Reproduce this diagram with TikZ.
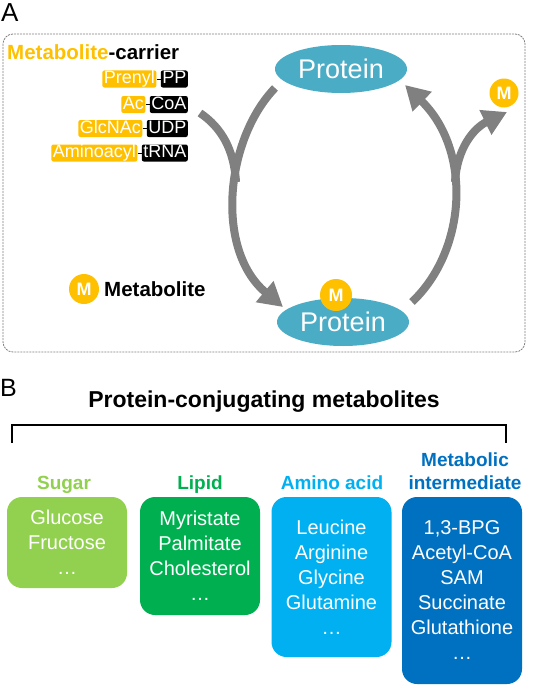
\documentclass[tikz,border=0pt]{standalone}
\usepackage{fontspec}
\setmainfont{Liberation Sans}
\usetikzlibrary{shapes.geometric,arrows.meta,calc}
\definecolor{gold}{HTML}{FFC000}
\definecolor{teal1}{HTML}{4BACC6}
\definecolor{arrowgray}{HTML}{808080}
\definecolor{sugarc}{HTML}{92D050}
\definecolor{lipidc}{HTML}{00B050}
\definecolor{aminoc}{HTML}{00B0F0}
\definecolor{metabc}{HTML}{0070C0}
\begin{document}
\begin{tikzpicture}[x=1pt,y=-1pt,
  panel/.style={font=\fontsize{26}{30}\selectfont, anchor=base west, inner sep=0pt},
  prot/.style={ellipse, fill=teal1, text=white, font=\fontsize{27}{30}\selectfont, minimum width=132pt, minimum height=48pt, inner sep=0pt},
  mdot/.style={circle, fill=gold, text=white, font=\bfseries\fontsize{18}{18}\selectfont, inner sep=0pt},
  flow/.style={draw=arrowgray, line width=8pt},
  flowarrow/.style={flow, -{Triangle[length=24pt,width=26pt]}},
  pairbox/.style={text=white, rounded corners=2pt, font=\fontsize{18}{18}\selectfont, inner xsep=1.5pt, inner ysep=0pt, text height=13pt, text depth=4pt},
  orgbox/.style={pairbox, fill=gold, anchor=east},
  blkbox/.style={pairbox, fill=black, anchor=east},
  catbox/.style={rounded corners=15pt, text=white, align=center, font=\fontsize{20}{25}\selectfont, minimum width=120pt, inner sep=0pt},
  catlabel/.style={font=\bfseries\fontsize{19}{23}\selectfont, anchor=base, inner sep=0pt}
]
\useasboundingbox (0,0) rectangle (537,685);

% ---------- Panel A ----------
\node[panel] (labA) at (1,22) {A};
\draw[arrowgray, dash pattern=on 2pt off 1pt, rounded corners=10pt, line width=0.8pt] (3,34) rectangle (525,352);

\node[anchor=west, inner sep=0pt, font=\bfseries\fontsize{20.5}{22}\selectfont] (carrier) at (7,52) {\textcolor{gold}{Metabolite}-carrier};

\node[blkbox] (pp) at (188,79) {PP};
\node[orgbox] (prenyl) at ($(pp.west)+(-4,0)$) {Prenyl};
\node[blkbox] (coa) at (188,104.5) {CoA};
\node[orgbox] (ac) at ($(coa.west)+(-4,0)$) {Ac};
\node[blkbox] (udp) at (188,128.5) {UDP};
\node[orgbox] (glcnac) at ($(udp.west)+(-4,0)$) {GlcNAc};
\node[blkbox] (trna) at (188,153) {tRNA};
\node[orgbox] (aminoacyl) at ($(trna.west)+(-4,0)$) {Aminoacyl};
\foreach \a/\b in {prenyl/pp, ac/coa, glcnac/udp, aminoacyl/trna}
  \draw[line width=1pt] (\a.east) -- (\b.west);

\node[mdot, minimum size=30pt] (mleg) at (84,289) {M};
\node[anchor=west, inner sep=0pt, font=\bfseries\fontsize{20.5}{22}\selectfont] (metleg) at (104,289) {Metabolite};

\node[prot] (ptop) at (341,69) {Protein};
\node[prot] (pbot) at (343,322) {Protein};
\node[mdot, minimum size=32pt] (mbound) at (336,295) {M};
\node[mdot, minimum size=29pt] (mfree) at (504,93) {M};

\coordinate (carrierout) at (200,113);
% left arc: protein -> modified protein
\draw[flowarrow] ($(ptop)+(-66,19)$) .. controls (225,140) and (215,250) .. ($(pbot)+(-60,-15)$);
% carrier branch joining
\draw[flow] (carrierout) .. controls (222,128) and (234,150) .. (236,182);
% right arc: modified protein -> protein
\draw[flowarrow] ($(pbot)+(69,-20)$) .. controls (467,250) and (472,150) .. ($(ptop)+(64,16)$);
% metabolite release branch
\draw[flowarrow] (455,182) .. controls (457,148) and (474,128) .. ($(mfree)+(3,19)$);

% ---------- Panel B ----------
\node[panel, font=\fontsize{25}{30}\selectfont] (labB) at (0,396) {B};
\node[anchor=base, inner sep=0pt, font=\bfseries\fontsize{23}{26}\selectfont] (title) at (264,407) {Protein-conjugating metabolites};
\draw[line width=2pt] (12,443) -- (12,425) -- (506,425) -- (506,443);

\node[catlabel, text=sugarc] (lsugar) at (64,489) {Sugar};
\node[catlabel, text=lipidc] (llipid) at (200,489) {Lipid};
\node[catlabel, text=aminoc] (lamino) at (332,489) {Amino acid};
\node[catlabel, text=metabc] (lmetab1) at (465,466) {Metabolic};
\node[catlabel, text=metabc] (lmetab2) at (465,489) {intermediate};

\node[catbox, fill=sugarc, minimum height=91pt] (bsugar) at (67,542.5) {Glucose\\Fructose\\…};
\node[catbox, fill=lipidc, minimum height=118pt] (blipid) at (200,556) {Myristate\\Palmitate\\Cholesterol\\…};
\node[catbox, fill=aminoc, minimum height=160pt] (bamino) at (331.5,577) {Leucine\\Arginine\\Glycine\\Glutamine\\…};
\node[catbox, fill=metabc, minimum height=187pt] (bmetab) at (462,590.5) {1,3-BPG\\Acetyl-CoA\\SAM\\Succinate\\Glutathione\\…};
\end{tikzpicture}
\end{document}
